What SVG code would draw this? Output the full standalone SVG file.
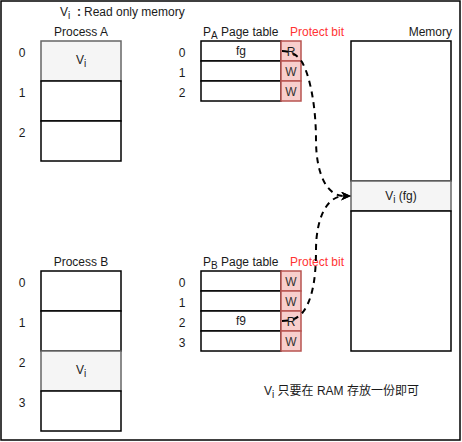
<svg xmlns="http://www.w3.org/2000/svg" width="462" height="442" viewBox="0 0 462 442">
<style>
text{font-family:"Liberation Sans",Arial,"Noto Sans CJK SC",sans-serif;font-size:12px;fill:#1a1a1a}
.c{text-anchor:middle}
.e{text-anchor:end}
.sub{font-size:10px}
.box{fill:#fff;stroke:#000;stroke-width:1.5}
.gray{fill:#f5f5f5;stroke:#666;stroke-width:1.5}
.pb{fill:#f8cecc;stroke:#b85450;stroke-width:1.5}
.pbt{fill:#333}
.red{fill:#ff3333}
.edge{fill:none;stroke:#000;stroke-width:2;stroke-dasharray:6 5}
</style>
<defs>
<marker id="arr" markerUnits="userSpaceOnUse" markerWidth="12" markerHeight="10" refX="3" refY="4.5" orient="auto" viewBox="0 0 12 10">
<path d="M0,0 L10,4.5 L0,9 L3,4.5 Z" fill="#000"/>
</marker>
</defs>
<rect x="1" y="1" width="459" height="439" fill="#fff" stroke="#000" stroke-width="1.5"/>
<g id="title"><text x="60" y="16">V<tspan class="sub" dy="3">i</tspan><tspan x="77" y="16" font-weight="bold">:</tspan><tspan x="84" y="16">Read only memory</tspan></text></g>
<g id="processA">
<text class="c" x="81" y="36">Process A</text>
<rect class="gray" x="41" y="41" width="80" height="40"/>
<text class="c" x="81" y="64">V<tspan class="sub" dy="3">i</tspan></text>
<rect class="box" x="41" y="81" width="80" height="40"/>
<rect class="box" x="41" y="121" width="80" height="40"/>
<text class="c" x="22" y="57">0</text>
<text class="c" x="22" y="97">1</text>
<text class="c" x="22" y="137">2</text>
</g>
<g id="processB">
<text class="c" x="81" y="266">Process B</text>
<rect class="box" x="41" y="271" width="80" height="40"/>
<rect class="box" x="41" y="311" width="80" height="40"/>
<rect class="gray" x="41" y="351" width="80" height="40"/>
<text class="c" x="81" y="374">V<tspan class="sub" dy="3">i</tspan></text>
<rect class="box" x="41" y="391" width="80" height="40"/>
<text class="c" x="22" y="287">0</text>
<text class="c" x="22" y="327">1</text>
<text class="c" x="22" y="367">2</text>
<text class="c" x="22" y="407">3</text>
</g>
<g id="pageTableA">
<text x="203" y="36">P<tspan class="sub" dy="3">A</tspan><tspan dy="-3"> Page table</tspan></text>
<text class="red" x="290" y="36">Protect bit</text>
<rect class="box" x="201" y="41" width="80" height="20"/>
<text class="c" x="241" y="55">fg</text>
<rect class="box" x="201" y="61" width="80" height="20"/>
<rect class="box" x="201" y="81" width="80" height="20"/>
<text class="c" x="182" y="57">0</text>
<text class="c" x="182" y="77">1</text>
<text class="c" x="182" y="97">2</text>
</g>
<g id="protectA">
<rect class="pb" x="281" y="41" width="20" height="20"/>
<rect class="pb" x="281" y="61" width="20" height="20"/>
<text class="c pbt" x="291" y="76">W</text>
<rect class="pb" x="281" y="81" width="20" height="20"/>
<text class="c pbt" x="291" y="96">W</text>
</g>
<g id="pageTableB">
<text x="203" y="266">P<tspan class="sub" dy="3">B</tspan><tspan dy="-3"> Page table</tspan></text>
<text class="red" x="290" y="266">Protect bit</text>
<rect class="box" x="201" y="271" width="80" height="20"/>
<rect class="box" x="201" y="291" width="80" height="20"/>
<rect class="box" x="201" y="311" width="80" height="20"/>
<text class="c" x="241" y="325">f9</text>
<rect class="box" x="201" y="331" width="80" height="20"/>
<text class="c" x="182" y="287">0</text>
<text class="c" x="182" y="307">1</text>
<text class="c" x="182" y="327">2</text>
<text class="c" x="182" y="347">3</text>
</g>
<g id="protectB">
<rect class="pb" x="281" y="271" width="20" height="20"/>
<text class="c pbt" x="291" y="286">W</text>
<rect class="pb" x="281" y="291" width="20" height="20"/>
<text class="c pbt" x="291" y="306">W</text>
<rect class="pb" x="281" y="311" width="20" height="20"/>
<rect class="pb" x="281" y="331" width="20" height="20"/>
<text class="c pbt" x="291" y="346">W</text>
</g>
<g id="memory">
<text class="e" x="452" y="36">Memory</text>
<rect class="box" x="351" y="41" width="100" height="140"/>
<rect class="gray" x="351" y="181" width="100" height="30"/>
<text class="c" x="401" y="200">V<tspan class="sub" dy="3">i</tspan><tspan dy="-3"> (fg)</tspan></text>
<rect class="box" x="351" y="211" width="100" height="140"/>
</g>
<g id="connectors">
<path class="edge" d="M282 51 C292 51 298 56 302 62 C311 78 316 110 316 140 C316 172 326 196 344 196" marker-end="url(#arr)"/>
<path class="edge" d="M282 321 C292 321 298 318 303 312 C312 300 316 280 316 250 C316 220 326 196 344 196" marker-end="url(#arr)"/>
</g>
<g id="rBitA"><text class="c" x="291" y="56">R</text></g>
<g id="rBitB"><text class="c" x="291" y="326">R</text></g>
<g id="note"><text x="264" y="395">V<tspan class="sub" dy="3">i</tspan><tspan dy="-3"> 只要在 RAM 存放一份即可</tspan></text></g>
</svg>
